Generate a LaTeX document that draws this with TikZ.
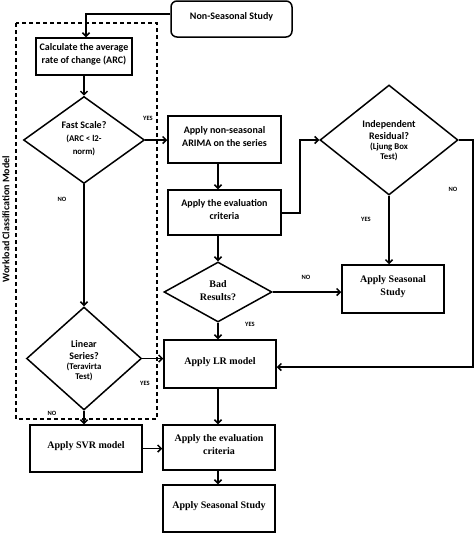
\documentclass[tikz,border=0pt]{standalone}
\usepackage{fontspec}
\setmainfont{Liberation Serif}
\newfontfamily\crl{Carlito}
\usetikzlibrary{shapes.geometric,arrows.meta}
\tikzset{
  every picture/.style={line width=1.5pt},
  sbox/.style={draw, rectangle, align=center, inner sep=1pt, font=\crl\bfseries\fontsize{10}{13}\selectfont,
     execute at end node={\rule[-6pt]{0pt}{6pt}}},
  tbox/.style={draw, rectangle, align=center, inner sep=1pt, font=\bfseries\fontsize{10}{13}\selectfont,
     execute at end node={\rule[-6pt]{0pt}{6pt}}},
  dia/.style={draw, diamond, inner sep=0pt},
  dtext/.style={align=center, font=\crl\bfseries\fontsize{10}{12}\selectfont},
  lab/.style={font=\crl\bfseries\fontsize{6.5}{7}\selectfont, inner sep=0pt},
  arr/.style={-{Straight Barb[length=3.5pt,width=7pt]}},
}
\newcommand\smf{\fontsize{8.8}{10}\selectfont}
\begin{document}
\begin{tikzpicture}[x=1pt,y=-1pt]
\useasboundingbox (0,0) rectangle (474,533);
% dashed group
\draw[dashed, dash pattern=on 4pt off 3pt, line width=1.3pt] (16,23) rectangle (157,419);
\node[rotate=90, font=\crl\bfseries\fontsize{10}{11}\selectfont, inner sep=0pt] (wcm) at (6,219) {Workload Classification Model};

\node[sbox, rounded corners=6pt, minimum width=121pt, minimum height=36pt] (ns) at (231.5,19) {Non-Seasonal Study};
\node[sbox, minimum width=96pt, minimum height=37pt] (calc) at (84,56.5) {Calculate the average\\rate of change (ARC)};
\node[dia, minimum width=121pt, minimum height=87pt] (fast) at (84,140) {};
\node[dtext] (fastt) at (84,139) {Fast Scale?\\[1pt]{\smf(ARC < l2-}\\[1pt]{\smf norm)}};
\node[sbox, minimum width=113pt, minimum height=47pt] (arima) at (224.5,139.5) {Apply non-seasonal\\ARIMA on the series};
\node[sbox, minimum width=113pt, minimum height=45pt] (eval1) at (224.5,212.5) {Apply the evaluation\\criteria};
\node[dia, minimum width=138pt, minimum height=110pt] (indep) at (389,140) {};
\node[dtext] (indept) at (389,141) {Independent\\Residual?\\[-2pt]{\smf(Ljung Box}\\[-2pt]{\smf Test)}};
\node[tbox, minimum width=102pt, minimum height=48pt] (seas) at (393,289) {Apply Seasonal\\Study};
\node[dia, minimum width=108pt, minimum height=60pt] (bad) at (218,292) {};
\node[align=center, font=\bfseries\fontsize{10}{13}\selectfont] (badt) at (218,291) {Bad\\Results?};
\node[tbox, minimum width=112pt, minimum height=48pt] (lr) at (220,364) {Apply LR model};
\node[dia, minimum width=115pt, minimum height=103pt] (lin) at (84,358.5) {};
\node[dtext] (lint) at (84,361) {Linear\\Series?\\[-2pt]{\smf(Teravirta}\\[-2pt]{\smf Test)}};
\node[tbox, minimum width=112pt, minimum height=47pt] (svr) at (86,448.5) {Apply SVR model};
\node[tbox, minimum width=112pt, minimum height=45pt] (eval2) at (219,447.5) {Apply the evaluation\\criteria};
\node[tbox, minimum width=112pt, minimum height=47pt] (fin) at (219,508.5) {Apply Seasonal Study};

% connectors
\coordinate (c1) at (86,14);
\draw[arr] (ns.west |- c1) -| (calc.north -| c1);
\draw[arr] (calc) -- (fast);
\draw[arr] (fast.east) -- (fast.east -| arima.west);
\coordinate (sp) at (218,0);
\draw[arr] (arima.south -| sp) -- (eval1.north -| sp);
\coordinate (c2) at (300,213);
\draw[arr] (eval1.east |- c2) -- (c2) |- (indep.west);
\coordinate (c3) at (473,367);
\draw[arr] (indep.east) -| (c3) -- (c3 -| lr.east);
\draw[arr] (indep.south) -- (indep.south |- seas.north);
\draw[arr] (eval1.south -| sp) -- (bad.north);
\draw[arr] (bad.east) -- (bad.east -| seas.west);
\draw[arr] (bad.south) -- (bad.south |- lr.north);
\draw[arr] (fast.south) -- (lin.north);
\draw[arr] (lin.east) -- (lin.east -| lr.west);
\draw[arr] (lin.south) -- (lin.south |- svr.north);
\draw[arr] (svr.east) -- (svr.east -| eval2.west);
\draw[arr] (lr.south -| sp) -- (eval2.north -| sp);
\draw[arr] (eval2.south -| sp) -- (fin.north -| sp);

% labels
\node[lab] (l1) at (148,118) {YES};
\node[lab] (l2) at (62,199) {NO};
\node[lab] (l3) at (453,189) {NO};
\node[lab] (l4) at (366,219) {YES};
\node[lab] (l5) at (306,277) {NO};
\node[lab] (l6) at (250,324) {YES};
\node[lab] (l7) at (145,383) {YES};
\node[lab] (l8) at (52,413) {NO};
\end{tikzpicture}
\end{document}
